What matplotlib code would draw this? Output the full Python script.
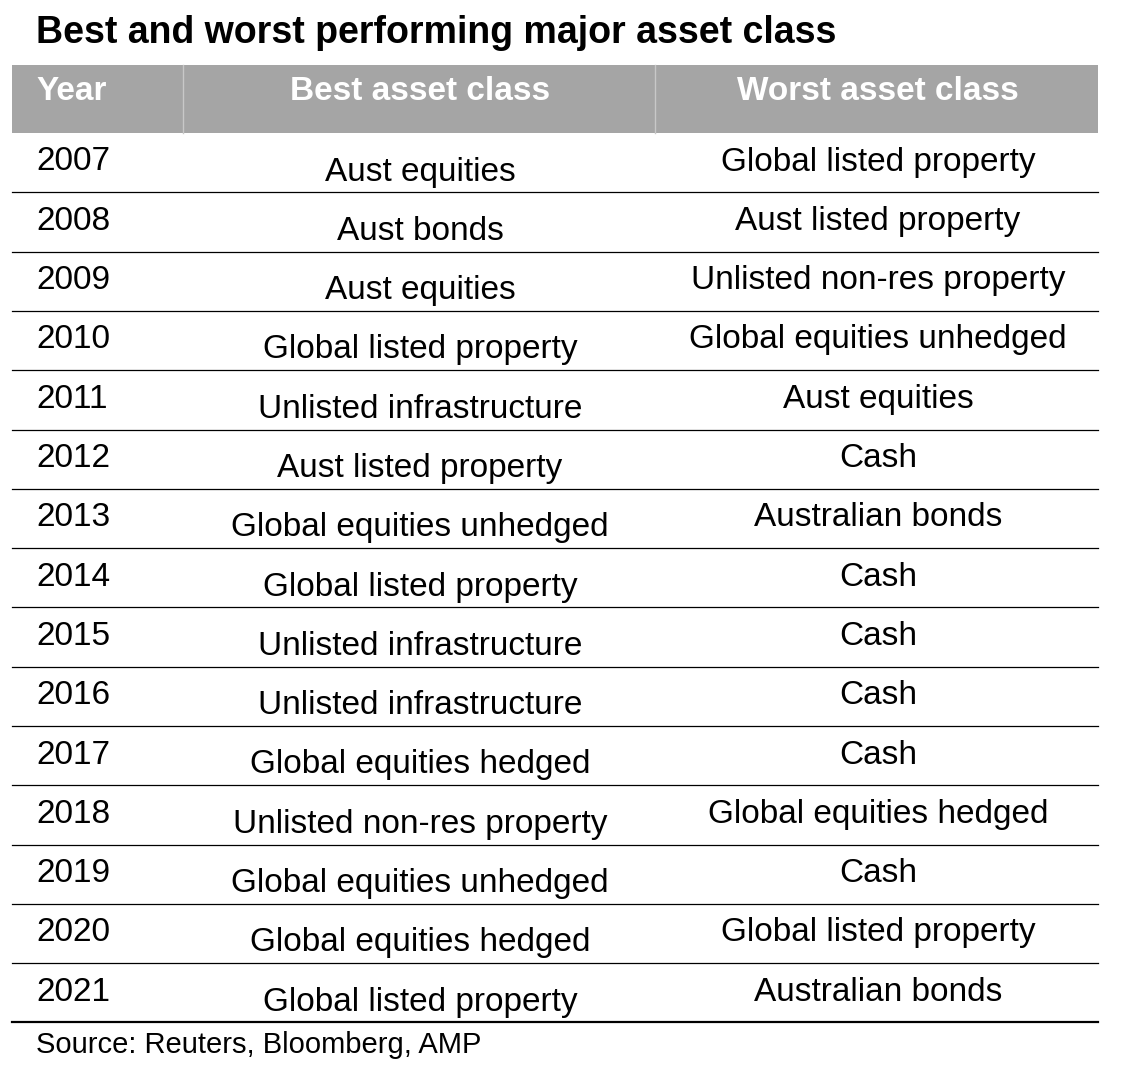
import matplotlib
matplotlib.use("Agg")
import matplotlib.pyplot as plt
from matplotlib.patches import Rectangle
from matplotlib.lines import Line2D

plt.rcParams['font.family'] = ['Liberation Sans', 'DejaVu Sans']

title = "Best and worst performing major asset class"
headers = ["Year", "Best asset class", "Worst asset class"]
years = [str(y) for y in range(2007, 2022)]
best = ["Aust equities", "Aust bonds", "Aust equities", "Global listed property",
        "Unlisted infrastructure", "Aust listed property", "Global equities unhedged",
        "Global listed property", "Unlisted infrastructure", "Unlisted infrastructure",
        "Global equities hedged", "Unlisted non-res property", "Global equities unhedged",
        "Global equities hedged", "Global listed property"]
worst = ["Global listed property", "Aust listed property", "Unlisted non-res property",
         "Global equities unhedged", "Aust equities", "Cash", "Australian bonds", "Cash",
         "Cash", "Cash", "Cash", "Global equities hedged", "Cash", "Global listed property",
         "Australian bonds"]
source = "Source: Reuters, Bloomberg, AMP"

W, H = 1124, 1081
fig = plt.figure(figsize=(W/100, H/100), dpi=100)
ax = fig.add_axes([0, 0, 1, 1])
ax.set_xlim(0, W); ax.set_ylim(H, 0); ax.axis('off')

ax.text(36, 33, title, fontsize=27, fontweight='bold', va='center', ha='left')
ax.add_patch(Rectangle((12, 65), 1086, 68, color='#a5a5a5', lw=0))
for x in (183, 655):
    ax.add_line(Line2D([x, x], [65, 133], color='#c8c8c8', lw=1))
ax.text(36, 92, headers[0], fontsize=24, fontweight='bold', color='white', va='center')
ax.text(420, 92, headers[1], fontsize=24, fontweight='bold', color='white', va='center', ha='center')
ax.text(878, 92, headers[2], fontsize=24, fontweight='bold', color='white', va='center', ha='center')

top, rh = 133, 59.3
for i, (y, b, w) in enumerate(zip(years, best, worst)):
    y0 = top + i * rh
    ax.text(36, y0 + 29, y, fontsize=24, va='center')
    ax.text(420, y0 + 39, b, fontsize=24, va='center', ha='center')
    ax.text(878, y0 + 29, w, fontsize=24, va='center', ha='center')
    lw = 1.6 if i == len(years) - 1 else 0.9
    ax.add_line(Line2D([12, 1098], [y0 + rh, y0 + rh], color='black', lw=lw))

ax.text(36, 1045, source, fontsize=21, va='center')
fig.savefig("out.png", dpi=100)
